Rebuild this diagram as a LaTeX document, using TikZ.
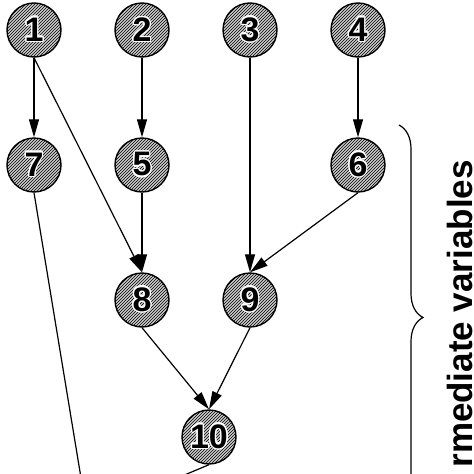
\documentclass[tikz,border=0pt]{standalone}
\usepackage{fontspec}
\setmainfont{Liberation Sans}
\usepackage[copies]{contour}
\contourlength{1.2pt}
\contournumber{24}
\usetikzlibrary{arrows.meta,patterns,decorations.pathreplacing}
\newcommand{\dig}[1]{\contour{white}{#1}}
\begin{document}
\begin{tikzpicture}[x=1pt,y=-1pt,
  var/.style={circle, draw, line width=1.4pt, minimum size=54pt, inner sep=0pt,
    fill=gray!40, postaction={pattern=north east lines},
    font=\fontsize{34}{34}\selectfont\bfseries},
  edge/.style={line width=1.2pt, -{Triangle[length=18pt,width=10pt]}},
  plain/.style={line width=1.2pt},
  bracestyle/.style={line width=1.2pt, decorate, decoration={brace, amplitude=24pt}},
  lbl/.style={rotate=90, anchor=base east, inner sep=0pt, font=\fontsize{35}{35}\selectfont\bfseries}]
\useasboundingbox (0,0) rectangle (474,474);
\clip (0,0) rectangle (474,474);
\fill[white] (0,0) rectangle (474,474);
\node[var] (n1) at (34,30) {\dig{1}};
\node[var] (n2) at (142,30) {\dig{2}};
\node[var] (n3) at (250,30) {\dig{3}};
\node[var] (n4) at (358,30) {\dig{4}};
\node[var] (n7) at (34,165) {\dig{7}};
\node[var] (n5) at (142,165) {\dig{5}};
\node[var] (n6) at (358,165) {\dig{6}};
\node[var] (n8) at (142,300) {\dig{8}};
\node[var] (n9) at (250,300) {\dig{9}};
\node[var] (n10) at (209,437) {\dig{10}};
\draw[edge] (n1.south) -- (n7.north);
\draw[edge] (n1.south) -- (n8.north);
\draw[edge] (n2) -- (n5);
\draw[edge] (n5) -- (n8);
\draw[edge] (n3) -- (n9);
\draw[edge] (n4) -- (n6);
\draw[edge] (n6.south) -- (n9.north);
\draw[edge] (n8.south) -- (n10.north);
\draw[edge] (n9.south) -- (n10.north);
\coordinate (e7) at (83,490);
\draw[plain] (n7.south) -- (e7);
\coordinate (e10) at (163,484);
\draw[plain] (n10.south) -- (e10);
\coordinate (bt) at (399,125);
\coordinate (bb) at (399,510);
\draw[bracestyle] (bt) -- (bb);
\node[lbl] (label) at (472,160) {rmediate variables};
\end{tikzpicture}
\end{document}
